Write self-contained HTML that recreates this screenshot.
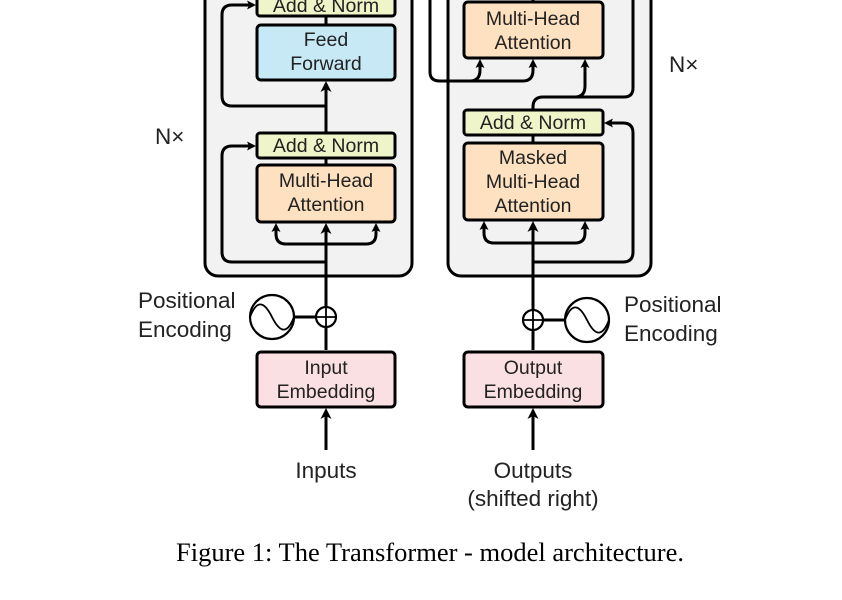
<!DOCTYPE html>
<html><head><meta charset="utf-8"><style>
html,body{margin:0;padding:0;background:#fff;width:842px;height:600px;overflow:hidden}
svg text{font-family:"Liberation Sans",sans-serif;fill:#222}
</style></head><body>
<svg width="842" height="600" viewBox="0 0 842 600" xmlns="http://www.w3.org/2000/svg">
<defs><marker id="a" markerWidth="9" markerHeight="9" refX="6" refY="4.5" orient="auto" markerUnits="userSpaceOnUse"><path d="M0,0 L9,4.5 L0,9 L2,4.5 Z" fill="#000"/></marker>
<marker id="b" markerWidth="11" markerHeight="11" refX="8" refY="5.5" orient="auto" markerUnits="userSpaceOnUse"><path d="M0,0 L11,5.5 L0,11 L3,5.5 Z" fill="#000"/></marker></defs>
<g stroke="#000" stroke-width="3" fill="none">
<rect x="205" y="-20" width="207" height="296" rx="13" fill="#f2f2f2"/>
<rect x="448" y="-20" width="203" height="296" rx="13" fill="#f2f2f2"/>
<rect x="257" y="-8" width="138" height="24" rx="3" fill="#eff5c8"/>
<rect x="257" y="25" width="138" height="55" rx="4" fill="#c7e8f5"/>
<rect x="257" y="133" width="138" height="25" rx="3" fill="#eff5c8"/>
<rect x="257" y="165" width="138" height="57" rx="4" fill="#fde1c1"/>
<line x1="326" y1="16" x2="326" y2="25"/>
<line x1="326" y1="158" x2="326" y2="165"/>
<line x1="326" y1="133" x2="326" y2="84" marker-end="url(#b)"/>
<path d="M326,106 H232 Q222,106 222,96 V15 Q222,5 232,5 H253" marker-end="url(#a)"/>
<path d="M326,262 H232 Q222,262 222,252 V156 Q222,146 232,146 H253" marker-end="url(#a)"/>
<line x1="326" y1="350" x2="326" y2="226" marker-end="url(#b)"/>
<path d="M326,244 H286 Q276,244 276,234 V226" marker-end="url(#a)"/>
<path d="M326,244 H366 Q376,244 376,234 V226" marker-end="url(#a)"/>
<rect x="464" y="2" width="139" height="56" rx="4" fill="#fde1c1"/>
<rect x="464" y="110" width="139" height="25" rx="3" fill="#eff5c8"/>
<rect x="464" y="143" width="139" height="77" rx="4" fill="#fde1c1"/>
<line x1="533" y1="-5" x2="533" y2="2"/>
<line x1="533" y1="135" x2="533" y2="143"/>
<path d="M430,-5 V72 Q430,81 440,81 H470 Q480,81 480,70 V62" marker-end="url(#a)"/>
<path d="M470,81 H523 Q533,81 533,70 V62" marker-end="url(#a)"/>
<path d="M533,110 V107 Q533,97 543,97 H624 Q633,97 633,88 V-5"/>
<path d="M575,97 Q585,97 585,86 V62" marker-end="url(#a)"/>
<path d="M533,262 H623 Q633,262 633,252 V133 Q633,123 623,123 H607" marker-end="url(#a)"/>
<line x1="533" y1="350" x2="533" y2="224" marker-end="url(#b)"/>
<path d="M533,243 H494 Q484,243 484,233 V224" marker-end="url(#a)"/>
<path d="M533,243 H575 Q585,243 585,233 V224" marker-end="url(#a)"/>
<rect x="257" y="352" width="138" height="55" rx="4" fill="#fbe0e3"/>
<rect x="464" y="352" width="139" height="55" rx="4" fill="#fbe0e3"/>
<line x1="326" y1="450" x2="326" y2="411" marker-end="url(#b)"/>
<line x1="533" y1="450" x2="533" y2="411" marker-end="url(#b)"/>
<circle cx="272" cy="317" r="22" fill="#fff" stroke-width="2.2"/>
<path d="M250,317 C258,296 266,305 272,317 C278,329 286,338 294,317" stroke-width="1.8"/>
<line x1="294" y1="317" x2="316" y2="317"/>
<circle cx="326" cy="317" r="10" fill="#fff" stroke-width="2.2"/>
<path d="M316,317 H336 M326,307 V327" stroke-width="1.8"/>
<circle cx="587" cy="320" r="22" fill="#fff" stroke-width="2.2"/>
<path d="M565,320 C573,299 581,308 587,320 C593,332 601,341 609,320" stroke-width="1.8"/>
<line x1="565" y1="320" x2="543" y2="320"/>
<circle cx="533" cy="320" r="10" fill="#fff" stroke-width="2.2"/>
<path d="M523,320 H543 M533,310 V330" stroke-width="1.8"/>
</g>
<g text-anchor="middle" style="font-size:19.5px">
<text x="326" y="12">Add &amp; Norm</text>
<text x="326" y="46">Feed</text><text x="326" y="70">Forward</text>
<text x="326" y="152">Add &amp; Norm</text>
<text x="326" y="187">Multi-Head</text><text x="326" y="211">Attention</text>
<text x="533" y="25">Multi-Head</text><text x="533" y="49">Attention</text>
<text x="533" y="129">Add &amp; Norm</text>
<text x="533" y="164">Masked</text><text x="533" y="188">Multi-Head</text><text x="533" y="212">Attention</text>
<text x="326" y="374">Input</text><text x="326" y="398">Embedding</text>
<text x="533" y="374">Output</text><text x="533" y="398">Embedding</text>
</g>
<g text-anchor="middle" style="font-size:22.5px">
<text x="326" y="478">Inputs</text>
<text x="533" y="478">Outputs</text>
<text x="533" y="506">(shifted right)</text>
</g>
<g style="font-size:22.5px">
<text x="138" y="308">Positional</text><text x="138" y="337">Encoding</text>
<text x="624" y="312">Positional</text><text x="624" y="341">Encoding</text>
<text x="155" y="144">N×</text>
<text x="669" y="72">N×</text>
</g>
<text x="430" y="561" text-anchor="middle" style="font-family:'Liberation Serif',serif;font-size:26.5px;fill:#000">Figure 1: The Transformer - model architecture.</text>
</svg>
</body></html>
